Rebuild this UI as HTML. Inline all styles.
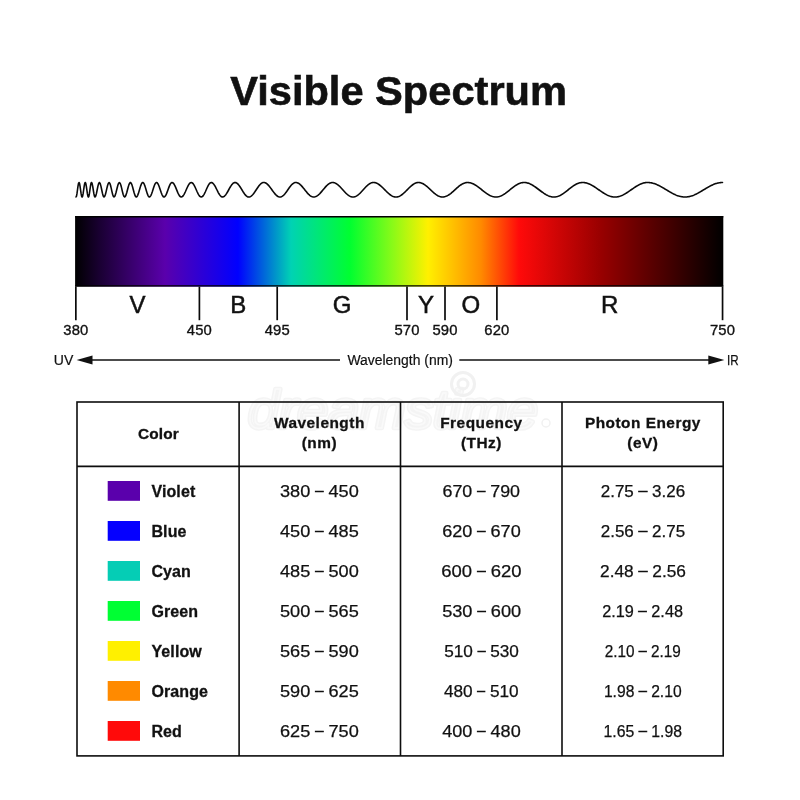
<!DOCTYPE html>
<html><head><meta charset="utf-8"><title>Visible Spectrum</title>
<style>
html,body{margin:0;padding:0;background:#fff;}
body{width:800px;height:800px;overflow:hidden;font-family:"Liberation Sans",sans-serif;}
svg{display:block;}
svg text{font-family:"Liberation Sans",sans-serif;fill:#111;}
svg text{filter:grayscale(1);}
.b{font-weight:bold;}
</style></head><body>
<svg width="800" height="800" viewBox="0 0 800 800">
<defs><linearGradient id="sp" x1="0" y1="0" x2="1" y2="0"><stop offset="0.00%" stop-color="#000000"/><stop offset="3.84%" stop-color="#1a0033"/><stop offset="13.87%" stop-color="#5a00ac"/><stop offset="25.13%" stop-color="#0000ff"/><stop offset="33.31%" stop-color="#00d2b4"/><stop offset="42.41%" stop-color="#00ff30"/><stop offset="48.89%" stop-color="#88fa18"/><stop offset="54.44%" stop-color="#fff000"/><stop offset="62.62%" stop-color="#ff8a00"/><stop offset="68.48%" stop-color="#ff0a0a"/><stop offset="80.98%" stop-color="#990000"/><stop offset="100.00%" stop-color="#000000"/></linearGradient></defs>
<rect width="800" height="800" fill="#fff"/>
<g fill="none" stroke-linejoin="round"><text x="248" y="428" font-size="54" font-style="italic" textLength="290" lengthAdjust="spacingAndGlyphs" stroke="#f4f4f4" stroke-width="4.5" style="fill:none">dreamstime</text><text x="248" y="428" font-size="54" font-style="italic" textLength="290" lengthAdjust="spacingAndGlyphs" stroke="#fafafa" stroke-width="1.4" style="fill:none">dreamstime</text><circle cx="463" cy="384" r="11.5" stroke="#f1f1f1" stroke-width="3"/><circle cx="463" cy="384" r="5" stroke="#f1f1f1" stroke-width="3"/><circle cx="546" cy="423" r="4" stroke="#f1f1f1" stroke-width="1.5"/></g>
<text class="b" x="230.2" y="104.6" font-size="40" textLength="336.8" lengthAdjust="spacingAndGlyphs" stroke="#111" stroke-width="0.6">Visible Spectrum</text>
<path d="M76.00,197.00 L76.50,196.03 L77.00,193.38 L77.50,189.75 L78.00,186.12 L78.50,183.47 L79.00,182.50 L79.52,183.47 L80.03,186.12 L80.55,189.75 L81.07,193.38 L81.58,196.03 L82.10,197.00 L82.62,196.03 L83.15,193.38 L83.67,189.75 L84.20,186.12 L84.72,183.47 L85.25,182.50 L85.78,183.47 L86.30,186.12 L86.83,189.75 L87.35,193.38 L87.88,196.03 L88.40,197.00 L88.92,196.03 L89.43,193.38 L89.95,189.75 L90.47,186.12 L90.98,183.47 L91.50,182.50 L92.08,183.47 L92.67,186.12 L93.25,189.75 L93.83,193.38 L94.42,196.03 L95.00,197.00 L95.73,196.03 L96.47,193.38 L97.20,189.75 L97.93,186.12 L98.67,183.47 L99.40,182.50 L100.17,183.47 L100.93,186.12 L101.70,189.75 L102.47,193.38 L103.23,196.03 L104.00,197.00 L104.73,196.28 L105.46,194.27 L106.19,191.36 L106.91,188.14 L107.64,185.23 L108.37,183.22 L109.10,182.50 L109.80,183.22 L110.50,185.23 L111.20,188.14 L111.90,191.36 L112.60,194.27 L113.30,196.28 L114.00,197.00 L114.67,196.45 L115.35,194.88 L116.03,192.52 L116.70,189.75 L117.38,186.98 L118.05,184.62 L118.73,183.05 L119.40,182.50 L120.14,183.22 L120.89,185.23 L121.63,188.14 L122.37,191.36 L123.11,194.27 L123.86,196.28 L124.60,197.00 L125.32,196.45 L126.05,194.88 L126.78,192.52 L127.50,189.75 L128.22,186.98 L128.95,184.62 L129.68,183.05 L130.40,182.50 L131.13,183.05 L131.86,184.62 L132.59,186.98 L133.32,189.75 L134.06,192.52 L134.79,194.88 L135.52,196.45 L136.25,197.00 L136.97,196.56 L137.69,195.30 L138.42,193.38 L139.14,191.01 L139.86,188.49 L140.58,186.12 L141.31,184.20 L142.03,182.94 L142.75,182.50 L143.49,182.94 L144.23,184.20 L144.97,186.12 L145.71,188.49 L146.44,191.01 L147.18,193.38 L147.92,195.30 L148.66,196.56 L149.40,197.00 L150.11,196.65 L150.82,195.62 L151.53,194.01 L152.24,191.99 L152.95,189.75 L153.66,187.51 L154.37,185.49 L155.08,183.88 L155.79,182.85 L156.50,182.50 L157.18,182.79 L157.86,183.65 L158.55,185.00 L159.23,186.74 L159.91,188.72 L160.59,190.78 L161.27,192.76 L161.95,194.50 L162.64,195.85 L163.32,196.71 L164.00,197.00 L164.67,196.75 L165.33,196.03 L166.00,194.88 L166.67,193.38 L167.33,191.63 L168.00,189.75 L168.67,187.87 L169.33,186.12 L170.00,184.62 L170.67,183.47 L171.33,182.75 L172.00,182.50 L172.71,182.71 L173.42,183.33 L174.13,184.32 L174.85,185.63 L175.56,187.18 L176.27,188.88 L176.98,190.62 L177.69,192.32 L178.40,193.87 L179.12,195.18 L179.83,196.17 L180.54,196.79 L181.25,197.00 L181.92,196.84 L182.58,196.37 L183.25,195.62 L183.92,194.60 L184.58,193.38 L185.25,191.99 L185.92,190.51 L186.58,188.99 L187.25,187.51 L187.92,186.12 L188.58,184.90 L189.25,183.88 L189.92,183.13 L190.58,182.66 L191.25,182.50 L191.92,182.66 L192.58,183.13 L193.25,183.88 L193.92,184.90 L194.58,186.12 L195.25,187.51 L195.92,188.99 L196.58,190.51 L197.25,191.99 L197.92,193.38 L198.58,194.60 L199.25,195.62 L199.92,196.37 L200.58,196.84 L201.25,197.00 L201.92,196.84 L202.58,196.37 L203.25,195.62 L203.92,194.60 L204.58,193.38 L205.25,191.99 L205.92,190.51 L206.58,188.99 L207.25,187.51 L207.92,186.12 L208.58,184.90 L209.25,183.88 L209.92,183.13 L210.58,182.66 L211.25,182.50 L211.95,182.64 L212.66,183.05 L213.36,183.72 L214.06,184.62 L214.77,185.72 L215.47,186.98 L216.17,188.34 L216.88,189.75 L217.58,191.16 L218.28,192.52 L218.98,193.78 L219.69,194.88 L220.39,195.78 L221.09,196.45 L221.80,196.86 L222.50,197.00 L223.19,196.89 L223.89,196.56 L224.58,196.03 L225.28,195.30 L225.97,194.41 L226.67,193.38 L227.36,192.23 L228.06,191.01 L228.75,189.75 L229.44,188.49 L230.14,187.27 L230.83,186.12 L231.53,185.09 L232.22,184.20 L232.92,183.47 L233.61,182.94 L234.31,182.61 L235.00,182.50 L235.69,182.59 L236.38,182.85 L237.06,183.29 L237.75,183.88 L238.44,184.62 L239.12,185.49 L239.81,186.46 L240.50,187.51 L241.19,188.62 L241.88,189.75 L242.56,190.88 L243.25,191.99 L243.94,193.04 L244.62,194.01 L245.31,194.88 L246.00,195.62 L246.69,196.21 L247.38,196.65 L248.06,196.91 L248.75,197.00 L249.43,196.93 L250.11,196.71 L250.80,196.34 L251.48,195.85 L252.16,195.23 L252.84,194.50 L253.52,193.67 L254.20,192.76 L254.89,191.79 L255.57,190.78 L256.25,189.75 L256.93,188.72 L257.61,187.71 L258.30,186.74 L258.98,185.83 L259.66,185.00 L260.34,184.27 L261.02,183.65 L261.70,183.16 L262.39,182.79 L263.07,182.57 L263.75,182.50 L264.43,182.56 L265.10,182.75 L265.78,183.05 L266.46,183.47 L267.14,184.00 L267.81,184.62 L268.49,185.34 L269.17,186.12 L269.84,186.98 L270.52,187.87 L271.20,188.80 L271.88,189.75 L272.55,190.70 L273.23,191.63 L273.91,192.52 L274.58,193.38 L275.26,194.16 L275.94,194.88 L276.61,195.50 L277.29,196.03 L277.97,196.45 L278.65,196.75 L279.32,196.94 L280.00,197.00 L280.68,196.93 L281.37,196.73 L282.05,196.40 L282.74,195.94 L283.42,195.37 L284.11,194.70 L284.79,193.93 L285.48,193.09 L286.16,192.18 L286.85,191.23 L287.53,190.24 L288.22,189.26 L288.90,188.27 L289.59,187.32 L290.27,186.41 L290.96,185.57 L291.64,184.80 L292.33,184.13 L293.01,183.56 L293.70,183.10 L294.38,182.77 L295.07,182.57 L295.75,182.50 L296.42,182.55 L297.08,182.70 L297.75,182.94 L298.42,183.27 L299.08,183.69 L299.75,184.20 L300.42,184.77 L301.08,185.42 L301.75,186.12 L302.42,186.88 L303.08,187.67 L303.75,188.49 L304.42,189.33 L305.08,190.17 L305.75,191.01 L306.42,191.83 L307.08,192.62 L307.75,193.38 L308.42,194.08 L309.08,194.73 L309.75,195.30 L310.42,195.81 L311.08,196.23 L311.75,196.56 L312.42,196.80 L313.08,196.95 L313.75,197.00 L314.42,196.95 L315.09,196.82 L315.76,196.59 L316.43,196.28 L317.10,195.89 L317.77,195.42 L318.44,194.88 L319.11,194.27 L319.78,193.61 L320.45,192.90 L321.12,192.14 L321.79,191.36 L322.46,190.56 L323.12,189.75 L323.79,188.94 L324.46,188.14 L325.13,187.36 L325.80,186.60 L326.47,185.89 L327.14,185.23 L327.81,184.62 L328.48,184.08 L329.15,183.61 L329.82,183.22 L330.49,182.91 L331.16,182.68 L331.83,182.55 L332.50,182.50 L333.18,182.54 L333.87,182.66 L334.55,182.85 L335.23,183.13 L335.92,183.47 L336.60,183.88 L337.28,184.36 L337.97,184.90 L338.65,185.49 L339.33,186.12 L340.02,186.80 L340.70,187.51 L341.38,188.24 L342.07,188.99 L342.75,189.75 L343.43,190.51 L344.12,191.26 L344.80,191.99 L345.48,192.70 L346.17,193.38 L346.85,194.01 L347.53,194.60 L348.22,195.14 L348.90,195.62 L349.58,196.03 L350.27,196.37 L350.95,196.65 L351.63,196.84 L352.32,196.96 L353.00,197.00 L353.68,196.96 L354.37,196.84 L355.05,196.65 L355.73,196.37 L356.42,196.03 L357.10,195.62 L357.78,195.14 L358.47,194.60 L359.15,194.01 L359.83,193.38 L360.52,192.70 L361.20,191.99 L361.88,191.26 L362.57,190.51 L363.25,189.75 L363.93,188.99 L364.62,188.24 L365.30,187.51 L365.98,186.80 L366.67,186.12 L367.35,185.49 L368.03,184.90 L368.72,184.36 L369.40,183.88 L370.08,183.47 L370.77,183.13 L371.45,182.85 L372.13,182.66 L372.82,182.54 L373.50,182.50 L374.18,182.53 L374.86,182.63 L375.55,182.79 L376.23,183.02 L376.91,183.31 L377.59,183.65 L378.27,184.05 L378.95,184.50 L379.64,185.00 L380.32,185.54 L381.00,186.12 L381.68,186.74 L382.36,187.38 L383.05,188.04 L383.73,188.72 L384.41,189.41 L385.09,190.09 L385.77,190.78 L386.45,191.46 L387.14,192.12 L387.82,192.76 L388.50,193.38 L389.18,193.96 L389.86,194.50 L390.55,195.00 L391.23,195.45 L391.91,195.85 L392.59,196.19 L393.27,196.48 L393.95,196.71 L394.64,196.87 L395.32,196.97 L396.00,197.00 L396.68,196.97 L397.36,196.87 L398.05,196.71 L398.73,196.48 L399.41,196.19 L400.09,195.85 L400.77,195.45 L401.45,195.00 L402.14,194.50 L402.82,193.96 L403.50,193.38 L404.18,192.76 L404.86,192.12 L405.55,191.46 L406.23,190.78 L406.91,190.09 L407.59,189.41 L408.27,188.72 L408.95,188.04 L409.64,187.38 L410.32,186.74 L411.00,186.12 L411.68,185.54 L412.36,185.00 L413.05,184.50 L413.73,184.05 L414.41,183.65 L415.09,183.31 L415.77,183.02 L416.45,182.79 L417.14,182.63 L417.82,182.53 L418.50,182.50 L419.17,182.53 L419.83,182.61 L420.50,182.75 L421.17,182.94 L421.83,183.18 L422.50,183.47 L423.17,183.81 L423.83,184.20 L424.50,184.62 L425.17,185.09 L425.83,185.59 L426.50,186.12 L427.17,186.69 L427.83,187.27 L428.50,187.87 L429.17,188.49 L429.83,189.12 L430.50,189.75 L431.17,190.38 L431.83,191.01 L432.50,191.63 L433.17,192.23 L433.83,192.81 L434.50,193.38 L435.17,193.91 L435.83,194.41 L436.50,194.88 L437.17,195.30 L437.83,195.69 L438.50,196.03 L439.17,196.32 L439.83,196.56 L440.50,196.75 L441.17,196.89 L441.83,196.97 L442.50,197.00 L443.18,196.97 L443.85,196.90 L444.53,196.77 L445.20,196.59 L445.88,196.36 L446.55,196.08 L447.23,195.76 L447.91,195.39 L448.58,194.98 L449.26,194.54 L449.93,194.06 L450.61,193.55 L451.28,193.01 L451.96,192.45 L452.64,191.87 L453.31,191.28 L453.99,190.67 L454.66,190.06 L455.34,189.44 L456.01,188.83 L456.69,188.22 L457.36,187.63 L458.04,187.05 L458.72,186.49 L459.39,185.95 L460.07,185.44 L460.74,184.96 L461.42,184.52 L462.09,184.11 L462.77,183.74 L463.45,183.42 L464.12,183.14 L464.80,182.91 L465.47,182.73 L466.15,182.60 L466.82,182.53 L467.50,182.50 L468.18,182.52 L468.86,182.58 L469.54,182.68 L470.21,182.82 L470.89,183.00 L471.57,183.22 L472.25,183.47 L472.93,183.76 L473.61,184.08 L474.29,184.44 L474.96,184.82 L475.64,185.23 L476.32,185.67 L477.00,186.12 L477.68,186.60 L478.36,187.10 L479.04,187.61 L479.71,188.14 L480.39,188.67 L481.07,189.21 L481.75,189.75 L482.43,190.29 L483.11,190.83 L483.79,191.36 L484.46,191.89 L485.14,192.40 L485.82,192.90 L486.50,193.38 L487.18,193.83 L487.86,194.27 L488.54,194.68 L489.21,195.06 L489.89,195.42 L490.57,195.74 L491.25,196.03 L491.93,196.28 L492.61,196.50 L493.29,196.68 L493.96,196.82 L494.64,196.92 L495.32,196.98 L496.00,197.00 L496.67,196.98 L497.33,196.92 L498.00,196.82 L498.67,196.68 L499.33,196.50 L500.00,196.28 L500.67,196.03 L501.33,195.74 L502.00,195.42 L502.67,195.06 L503.33,194.68 L504.00,194.27 L504.67,193.83 L505.33,193.38 L506.00,192.90 L506.67,192.40 L507.33,191.89 L508.00,191.36 L508.67,190.83 L509.33,190.29 L510.00,189.75 L510.67,189.21 L511.33,188.67 L512.00,188.14 L512.67,187.61 L513.33,187.10 L514.00,186.60 L514.67,186.12 L515.33,185.67 L516.00,185.23 L516.67,184.82 L517.33,184.44 L518.00,184.08 L518.67,183.76 L519.33,183.47 L520.00,183.22 L520.67,183.00 L521.33,182.82 L522.00,182.68 L522.67,182.58 L523.33,182.52 L524.00,182.50 L524.67,182.52 L525.33,182.57 L526.00,182.66 L526.67,182.78 L527.33,182.94 L528.00,183.13 L528.67,183.35 L529.33,183.60 L530.00,183.88 L530.67,184.20 L531.33,184.53 L532.00,184.90 L532.67,185.29 L533.33,185.70 L534.00,186.12 L534.67,186.57 L535.33,187.03 L536.00,187.51 L536.67,188.00 L537.33,188.49 L538.00,188.99 L538.67,189.50 L539.33,190.00 L540.00,190.51 L540.67,191.01 L541.33,191.50 L542.00,191.99 L542.67,192.47 L543.33,192.93 L544.00,193.38 L544.67,193.80 L545.33,194.21 L546.00,194.60 L546.67,194.97 L547.33,195.30 L548.00,195.62 L548.67,195.90 L549.33,196.15 L550.00,196.37 L550.67,196.56 L551.33,196.72 L552.00,196.84 L552.67,196.93 L553.33,196.98 L554.00,197.00 L554.68,196.98 L555.36,196.92 L556.04,196.82 L556.71,196.68 L557.39,196.50 L558.07,196.28 L558.75,196.03 L559.43,195.74 L560.11,195.42 L560.79,195.06 L561.46,194.68 L562.14,194.27 L562.82,193.83 L563.50,193.38 L564.18,192.90 L564.86,192.40 L565.54,191.89 L566.21,191.36 L566.89,190.83 L567.57,190.29 L568.25,189.75 L568.93,189.21 L569.61,188.67 L570.29,188.14 L570.96,187.61 L571.64,187.10 L572.32,186.60 L573.00,186.12 L573.68,185.67 L574.36,185.23 L575.04,184.82 L575.71,184.44 L576.39,184.08 L577.07,183.76 L577.75,183.47 L578.43,183.22 L579.11,183.00 L579.79,182.82 L580.46,182.68 L581.14,182.58 L581.82,182.52 L582.50,182.50 L583.18,182.52 L583.85,182.56 L584.53,182.64 L585.21,182.75 L585.89,182.88 L586.56,183.05 L587.24,183.25 L587.92,183.47 L588.59,183.72 L589.27,184.00 L589.95,184.30 L590.62,184.62 L591.30,184.97 L591.98,185.34 L592.66,185.72 L593.33,186.12 L594.01,186.54 L594.69,186.98 L595.36,187.42 L596.04,187.87 L596.72,188.34 L597.40,188.80 L598.07,189.28 L598.75,189.75 L599.43,190.22 L600.10,190.70 L600.78,191.16 L601.46,191.63 L602.14,192.08 L602.81,192.52 L603.49,192.96 L604.17,193.38 L604.84,193.78 L605.52,194.16 L606.20,194.53 L606.88,194.88 L607.55,195.20 L608.23,195.50 L608.91,195.78 L609.58,196.03 L610.26,196.25 L610.94,196.45 L611.61,196.62 L612.29,196.75 L612.97,196.86 L613.65,196.94 L614.32,196.98 L615.00,197.00 L615.68,196.98 L616.35,196.94 L617.03,196.86 L617.71,196.75 L618.39,196.62 L619.06,196.45 L619.74,196.25 L620.42,196.03 L621.09,195.78 L621.77,195.50 L622.45,195.20 L623.12,194.88 L623.80,194.53 L624.48,194.16 L625.16,193.78 L625.83,193.38 L626.51,192.96 L627.19,192.52 L627.86,192.08 L628.54,191.63 L629.22,191.16 L629.90,190.70 L630.57,190.22 L631.25,189.75 L631.93,189.28 L632.60,188.80 L633.28,188.34 L633.96,187.87 L634.64,187.42 L635.31,186.98 L635.99,186.54 L636.67,186.12 L637.34,185.72 L638.02,185.34 L638.70,184.97 L639.38,184.62 L640.05,184.30 L640.73,184.00 L641.41,183.72 L642.08,183.47 L642.76,183.25 L643.44,183.05 L644.11,182.88 L644.79,182.75 L645.47,182.64 L646.15,182.56 L646.82,182.52 L647.50,182.50 L648.17,182.51 L648.84,182.55 L649.51,182.60 L650.18,182.68 L650.85,182.78 L651.52,182.91 L652.19,183.05 L652.86,183.22 L653.53,183.40 L654.20,183.61 L654.87,183.84 L655.54,184.08 L656.21,184.34 L656.88,184.62 L657.54,184.92 L658.21,185.23 L658.88,185.55 L659.55,185.89 L660.22,186.24 L660.89,186.60 L661.56,186.98 L662.23,187.36 L662.90,187.74 L663.57,188.14 L664.24,188.54 L664.91,188.94 L665.58,189.34 L666.25,189.75 L666.92,190.16 L667.59,190.56 L668.26,190.96 L668.93,191.36 L669.60,191.76 L670.27,192.14 L670.94,192.52 L671.61,192.90 L672.28,193.26 L672.95,193.61 L673.62,193.95 L674.29,194.27 L674.96,194.58 L675.62,194.88 L676.29,195.16 L676.96,195.42 L677.63,195.66 L678.30,195.89 L678.97,196.10 L679.64,196.28 L680.31,196.45 L680.98,196.59 L681.65,196.72 L682.32,196.82 L682.99,196.90 L683.66,196.95 L684.33,196.99 L685.00,197.00 L685.67,196.99 L686.34,196.95 L687.01,196.90 L687.68,196.82 L688.35,196.72 L689.02,196.59 L689.69,196.45 L690.36,196.28 L691.03,196.10 L691.70,195.89 L692.37,195.66 L693.04,195.42 L693.71,195.16 L694.38,194.88 L695.04,194.58 L695.71,194.27 L696.38,193.95 L697.05,193.61 L697.72,193.26 L698.39,192.90 L699.06,192.52 L699.73,192.14 L700.40,191.76 L701.07,191.36 L701.74,190.96 L702.41,190.56 L703.08,190.16 L703.75,189.75 L704.42,189.34 L705.09,188.94 L705.76,188.54 L706.43,188.14 L707.10,187.74 L707.77,187.36 L708.44,186.98 L709.11,186.60 L709.78,186.24 L710.45,185.89 L711.12,185.55 L711.79,185.23 L712.46,184.92 L713.12,184.62 L713.79,184.34 L714.46,184.08 L715.13,183.84 L715.80,183.61 L716.47,183.40 L717.14,183.22 L717.81,183.05 L718.48,182.91 L719.15,182.78 L719.82,182.68 L720.49,182.60 L721.16,182.55 L721.83,182.51 L722.50,182.50" fill="none" stroke="#0a0a0a" stroke-width="1.6" stroke-linejoin="round" stroke-linecap="round"/>
<rect x="75.1" y="216.1" width="648.1999999999999" height="70.50000000000003" fill="url(#sp)"/>
<line x1="75.1" y1="216.75" x2="723.3" y2="216.75" stroke="#000" stroke-width="1.3"/>
<line x1="75.1" y1="285.95000000000005" x2="723.3" y2="285.95000000000005" stroke="#000" stroke-width="1.3"/>
<line x1="75.85" y1="286.6" x2="75.85" y2="320.2" stroke="#0a0a0a" stroke-width="1.7"/>
<text x="75.85" y="335.2" font-size="14.8" text-anchor="middle" stroke="#111" stroke-width="0.35" letter-spacing="0.15">380</text>
<line x1="199.4" y1="286.6" x2="199.4" y2="320.2" stroke="#0a0a0a" stroke-width="1.7"/>
<text x="199.4" y="335.2" font-size="14.8" text-anchor="middle" stroke="#111" stroke-width="0.35" letter-spacing="0.15">450</text>
<line x1="277.2" y1="286.6" x2="277.2" y2="320.2" stroke="#0a0a0a" stroke-width="1.7"/>
<text x="277.2" y="335.2" font-size="14.8" text-anchor="middle" stroke="#111" stroke-width="0.35" letter-spacing="0.15">495</text>
<line x1="407.0" y1="286.6" x2="407.0" y2="320.2" stroke="#0a0a0a" stroke-width="1.7"/>
<text x="407.0" y="335.2" font-size="14.8" text-anchor="middle" stroke="#111" stroke-width="0.35" letter-spacing="0.15">570</text>
<line x1="445.0" y1="286.6" x2="445.0" y2="320.2" stroke="#0a0a0a" stroke-width="1.7"/>
<text x="445.0" y="335.2" font-size="14.8" text-anchor="middle" stroke="#111" stroke-width="0.35" letter-spacing="0.15">590</text>
<line x1="496.9" y1="286.6" x2="496.9" y2="320.2" stroke="#0a0a0a" stroke-width="1.7"/>
<text x="496.9" y="335.2" font-size="14.8" text-anchor="middle" stroke="#111" stroke-width="0.35" letter-spacing="0.15">620</text>
<line x1="722.55" y1="286.6" x2="722.55" y2="320.2" stroke="#0a0a0a" stroke-width="1.7"/>
<text x="722.55" y="335.2" font-size="14.8" text-anchor="middle" stroke="#111" stroke-width="0.35" letter-spacing="0.15">750</text>
<text x="137.6" y="312.9" font-size="24" text-anchor="middle" stroke="#111" stroke-width="0.5">V</text>
<text x="238.3" y="312.9" font-size="24" text-anchor="middle" stroke="#111" stroke-width="0.5">B</text>
<text x="342.1" y="312.9" font-size="24" text-anchor="middle" stroke="#111" stroke-width="0.5">G</text>
<text x="426.0" y="312.9" font-size="24" text-anchor="middle" stroke="#111" stroke-width="0.5">Y</text>
<text x="470.9" y="312.9" font-size="24" text-anchor="middle" stroke="#111" stroke-width="0.5">O</text>
<text x="609.7" y="312.9" font-size="24" text-anchor="middle" stroke="#111" stroke-width="0.5">R</text>
<text x="63.6" y="365" font-size="14" text-anchor="middle" stroke="#111" stroke-width="0.2">UV</text>
<text x="732.9" y="365" font-size="14" text-anchor="middle" stroke="#111" stroke-width="0.25" textLength="11.6" lengthAdjust="spacingAndGlyphs">IR</text>
<text x="400.2" y="365" font-size="14" text-anchor="middle" stroke="#111" stroke-width="0.2" textLength="105.5" lengthAdjust="spacingAndGlyphs">Wavelength (nm)</text>
<line x1="90" y1="360" x2="340" y2="360" stroke="#111" stroke-width="1.5"/>
<line x1="459.3" y1="360" x2="710" y2="360" stroke="#111" stroke-width="1.5"/>
<path d="M76.6,360 L92.5,355.5 L92.5,364.5 Z" fill="#111"/>
<path d="M724.4,360 L708.3,355.5 L708.3,364.5 Z" fill="#111"/>
<rect x="77.0" y="402.0" width="646.2" height="353.9" fill="none" stroke="#0d0d0d" stroke-width="1.6"/>
<line x1="77.0" y1="466.4" x2="723.2" y2="466.4" stroke="#0d0d0d" stroke-width="1.6"/>
<line x1="239.1" y1="402.0" x2="239.1" y2="755.9" stroke="#0d0d0d" stroke-width="1.6"/>
<line x1="400.5" y1="402.0" x2="400.5" y2="755.9" stroke="#0d0d0d" stroke-width="1.6"/>
<line x1="562.0" y1="402.0" x2="562.0" y2="755.9" stroke="#0d0d0d" stroke-width="1.6"/>
<text class="b" x="158.4" y="438.9" font-size="15.4" text-anchor="middle" stroke="#111" stroke-width="0.3" letter-spacing="0.1">Color</text>
<text class="b" x="319.4" y="428.3" font-size="15.4" text-anchor="middle" stroke="#111" stroke-width="0.3" letter-spacing="0.5">Wavelength</text>
<text class="b" x="319.4" y="448.3" font-size="15.4" text-anchor="middle" stroke="#111" stroke-width="0.3" letter-spacing="0.5">(nm)</text>
<text class="b" x="481.4" y="428.3" font-size="15.4" text-anchor="middle" stroke="#111" stroke-width="0.3" letter-spacing="0.5">Frequency</text>
<text class="b" x="481.4" y="448.3" font-size="15.4" text-anchor="middle" stroke="#111" stroke-width="0.3" letter-spacing="0.5">(THz)</text>
<text class="b" x="642.9" y="428.3" font-size="15.4" text-anchor="middle" stroke="#111" stroke-width="0.3" letter-spacing="0.5">Photon Energy</text>
<text class="b" x="642.9" y="448.3" font-size="15.4" text-anchor="middle" stroke="#111" stroke-width="0.3" letter-spacing="0.5">(eV)</text>
<rect x="107.7" y="481" width="32.3" height="19.8" fill="#5a00ac"/>
<text class="b" x="151.4" y="497" font-size="16" stroke="#111" stroke-width="0.3" letter-spacing="0.12">Violet</text>
<g transform="translate(0,497.1) scale(1,1) translate(0,-497.1)"><text x="319.40" y="497.1" font-size="16.3" text-anchor="middle" textLength="78.80" lengthAdjust="spacingAndGlyphs" stroke="#111" stroke-width="0.25">380 <tspan dy="-2.3" font-size="13.2" stroke-width="0.65">–</tspan><tspan dy="2.3"> 450</tspan></text></g>
<g transform="translate(0,497.1) scale(1,1) translate(0,-497.1)"><text x="481.25" y="497.1" font-size="16.3" text-anchor="middle" textLength="77.50" lengthAdjust="spacingAndGlyphs" stroke="#111" stroke-width="0.25">670 <tspan dy="-2.3" font-size="13.2" stroke-width="0.65">–</tspan><tspan dy="2.3"> 790</tspan></text></g>
<g transform="translate(0,497.1) scale(1,1) translate(0,-497.1)"><text x="642.92" y="497.1" font-size="16.3" text-anchor="middle" textLength="84.35" lengthAdjust="spacingAndGlyphs" stroke="#111" stroke-width="0.25">2.75 <tspan dy="-2.3" font-size="15.2" stroke-width="0.65">–</tspan><tspan dy="2.3"> 3.26</tspan></text></g>
<rect x="107.7" y="521" width="32.3" height="19.8" fill="#0500ff"/>
<text class="b" x="151.4" y="537" font-size="16" stroke="#111" stroke-width="0.3" letter-spacing="0.12">Blue</text>
<g transform="translate(0,537.1) scale(1,1) translate(0,-537.1)"><text x="319.40" y="537.1" font-size="16.3" text-anchor="middle" textLength="78.80" lengthAdjust="spacingAndGlyphs" stroke="#111" stroke-width="0.25">450 <tspan dy="-2.3" font-size="13.2" stroke-width="0.65">–</tspan><tspan dy="2.3"> 485</tspan></text></g>
<g transform="translate(0,537.1) scale(1,1) translate(0,-537.1)"><text x="481.43" y="537.1" font-size="16.3" text-anchor="middle" textLength="78.55" lengthAdjust="spacingAndGlyphs" stroke="#111" stroke-width="0.25">620 <tspan dy="-2.3" font-size="13.2" stroke-width="0.65">–</tspan><tspan dy="2.3"> 670</tspan></text></g>
<g transform="translate(0,537.1) scale(1,1) translate(0,-537.1)"><text x="642.92" y="537.1" font-size="16.3" text-anchor="middle" textLength="84.35" lengthAdjust="spacingAndGlyphs" stroke="#111" stroke-width="0.25">2.56 <tspan dy="-2.3" font-size="15.2" stroke-width="0.65">–</tspan><tspan dy="2.3"> 2.75</tspan></text></g>
<rect x="107.7" y="561" width="32.3" height="19.8" fill="#05cdb5"/>
<text class="b" x="151.4" y="577" font-size="16" stroke="#111" stroke-width="0.3" letter-spacing="0.12">Cyan</text>
<g transform="translate(0,577.1) scale(1,1) translate(0,-577.1)"><text x="319.40" y="577.1" font-size="16.3" text-anchor="middle" textLength="78.80" lengthAdjust="spacingAndGlyphs" stroke="#111" stroke-width="0.25">485 <tspan dy="-2.3" font-size="13.2" stroke-width="0.65">–</tspan><tspan dy="2.3"> 500</tspan></text></g>
<g transform="translate(0,577.1) scale(1,1) translate(0,-577.1)"><text x="481.45" y="577.1" font-size="16.3" text-anchor="middle" textLength="80.30" lengthAdjust="spacingAndGlyphs" stroke="#111" stroke-width="0.25">600 <tspan dy="-2.3" font-size="13.2" stroke-width="0.65">–</tspan><tspan dy="2.3"> 620</tspan></text></g>
<g transform="translate(0,577.1) scale(1,1) translate(0,-577.1)"><text x="643.00" y="577.1" font-size="16.3" text-anchor="middle" textLength="85.90" lengthAdjust="spacingAndGlyphs" stroke="#111" stroke-width="0.25">2.48 <tspan dy="-2.3" font-size="15.2" stroke-width="0.65">–</tspan><tspan dy="2.3"> 2.56</tspan></text></g>
<rect x="107.7" y="601" width="32.3" height="19.8" fill="#00ff33"/>
<text class="b" x="151.4" y="617" font-size="16" stroke="#111" stroke-width="0.3" letter-spacing="0.12">Green</text>
<g transform="translate(0,617.1) scale(1,1) translate(0,-617.1)"><text x="319.40" y="617.1" font-size="16.3" text-anchor="middle" textLength="78.80" lengthAdjust="spacingAndGlyphs" stroke="#111" stroke-width="0.25">500 <tspan dy="-2.3" font-size="13.2" stroke-width="0.65">–</tspan><tspan dy="2.3"> 565</tspan></text></g>
<g transform="translate(0,617.1) scale(1,1) translate(0,-617.1)"><text x="481.68" y="617.1" font-size="16.3" text-anchor="middle" textLength="79.05" lengthAdjust="spacingAndGlyphs" stroke="#111" stroke-width="0.25">530 <tspan dy="-2.3" font-size="13.2" stroke-width="0.65">–</tspan><tspan dy="2.3"> 600</tspan></text></g>
<g transform="translate(0,617.1) scale(1,1) translate(0,-617.1)"><text x="642.58" y="617.1" font-size="16.3" text-anchor="middle" textLength="80.85" lengthAdjust="spacingAndGlyphs" stroke="#111" stroke-width="0.25">2.19 <tspan dy="-2.3" font-size="15.2" stroke-width="0.65">–</tspan><tspan dy="2.3"> 2.48</tspan></text></g>
<rect x="107.7" y="641" width="32.3" height="19.8" fill="#fff000"/>
<text class="b" x="151.4" y="657" font-size="16" stroke="#111" stroke-width="0.3" letter-spacing="0.12">Yellow</text>
<g transform="translate(0,657.1) scale(1,1) translate(0,-657.1)"><text x="319.40" y="657.1" font-size="16.3" text-anchor="middle" textLength="78.80" lengthAdjust="spacingAndGlyphs" stroke="#111" stroke-width="0.25">565 <tspan dy="-2.3" font-size="13.2" stroke-width="0.65">–</tspan><tspan dy="2.3"> 590</tspan></text></g>
<g transform="translate(0,657.1) scale(1,1) translate(0,-657.1)"><text x="481.60" y="657.1" font-size="16.3" text-anchor="middle" textLength="74.70" lengthAdjust="spacingAndGlyphs" stroke="#111" stroke-width="0.25">510 <tspan dy="-2.3" font-size="13.2" stroke-width="0.65">–</tspan><tspan dy="2.3"> 530</tspan></text></g>
<g transform="translate(0,657.1) scale(1,1) translate(0,-657.1)"><text x="642.85" y="657.1" font-size="16.3" text-anchor="middle" textLength="76.10" lengthAdjust="spacingAndGlyphs" stroke="#111" stroke-width="0.25">2.10 <tspan dy="-2.3" font-size="15.2" stroke-width="0.65">–</tspan><tspan dy="2.3"> 2.19</tspan></text></g>
<rect x="107.7" y="681" width="32.3" height="19.8" fill="#ff8a00"/>
<text class="b" x="151.4" y="697" font-size="16" stroke="#111" stroke-width="0.3" letter-spacing="0.12">Orange</text>
<g transform="translate(0,697.1) scale(1,1) translate(0,-697.1)"><text x="319.40" y="697.1" font-size="16.3" text-anchor="middle" textLength="78.80" lengthAdjust="spacingAndGlyphs" stroke="#111" stroke-width="0.25">590 <tspan dy="-2.3" font-size="13.2" stroke-width="0.65">–</tspan><tspan dy="2.3"> 625</tspan></text></g>
<g transform="translate(0,697.1) scale(1,1) translate(0,-697.1)"><text x="481.25" y="697.1" font-size="16.3" text-anchor="middle" textLength="74.70" lengthAdjust="spacingAndGlyphs" stroke="#111" stroke-width="0.25">480 <tspan dy="-2.3" font-size="13.2" stroke-width="0.65">–</tspan><tspan dy="2.3"> 510</tspan></text></g>
<g transform="translate(0,697.1) scale(1,1) translate(0,-697.1)"><text x="642.75" y="697.1" font-size="16.3" text-anchor="middle" textLength="77.70" lengthAdjust="spacingAndGlyphs" stroke="#111" stroke-width="0.25">1.98 <tspan dy="-2.3" font-size="15.2" stroke-width="0.65">–</tspan><tspan dy="2.3"> 2.10</tspan></text></g>
<rect x="107.7" y="721" width="32.3" height="19.8" fill="#ff0a0a"/>
<text class="b" x="151.4" y="737" font-size="16" stroke="#111" stroke-width="0.3" letter-spacing="0.12">Red</text>
<g transform="translate(0,737.1) scale(1,1) translate(0,-737.1)"><text x="319.40" y="737.1" font-size="16.3" text-anchor="middle" textLength="78.80" lengthAdjust="spacingAndGlyphs" stroke="#111" stroke-width="0.25">625 <tspan dy="-2.3" font-size="13.2" stroke-width="0.65">–</tspan><tspan dy="2.3"> 750</tspan></text></g>
<g transform="translate(0,737.1) scale(1,1) translate(0,-737.1)"><text x="481.43" y="737.1" font-size="16.3" text-anchor="middle" textLength="78.55" lengthAdjust="spacingAndGlyphs" stroke="#111" stroke-width="0.25">400 <tspan dy="-2.3" font-size="13.2" stroke-width="0.65">–</tspan><tspan dy="2.3"> 480</tspan></text></g>
<g transform="translate(0,737.1) scale(1,1) translate(0,-737.1)"><text x="642.83" y="737.1" font-size="16.3" text-anchor="middle" textLength="78.55" lengthAdjust="spacingAndGlyphs" stroke="#111" stroke-width="0.25">1.65 <tspan dy="-2.3" font-size="15.2" stroke-width="0.65">–</tspan><tspan dy="2.3"> 1.98</tspan></text></g>
</svg>
</body></html>
